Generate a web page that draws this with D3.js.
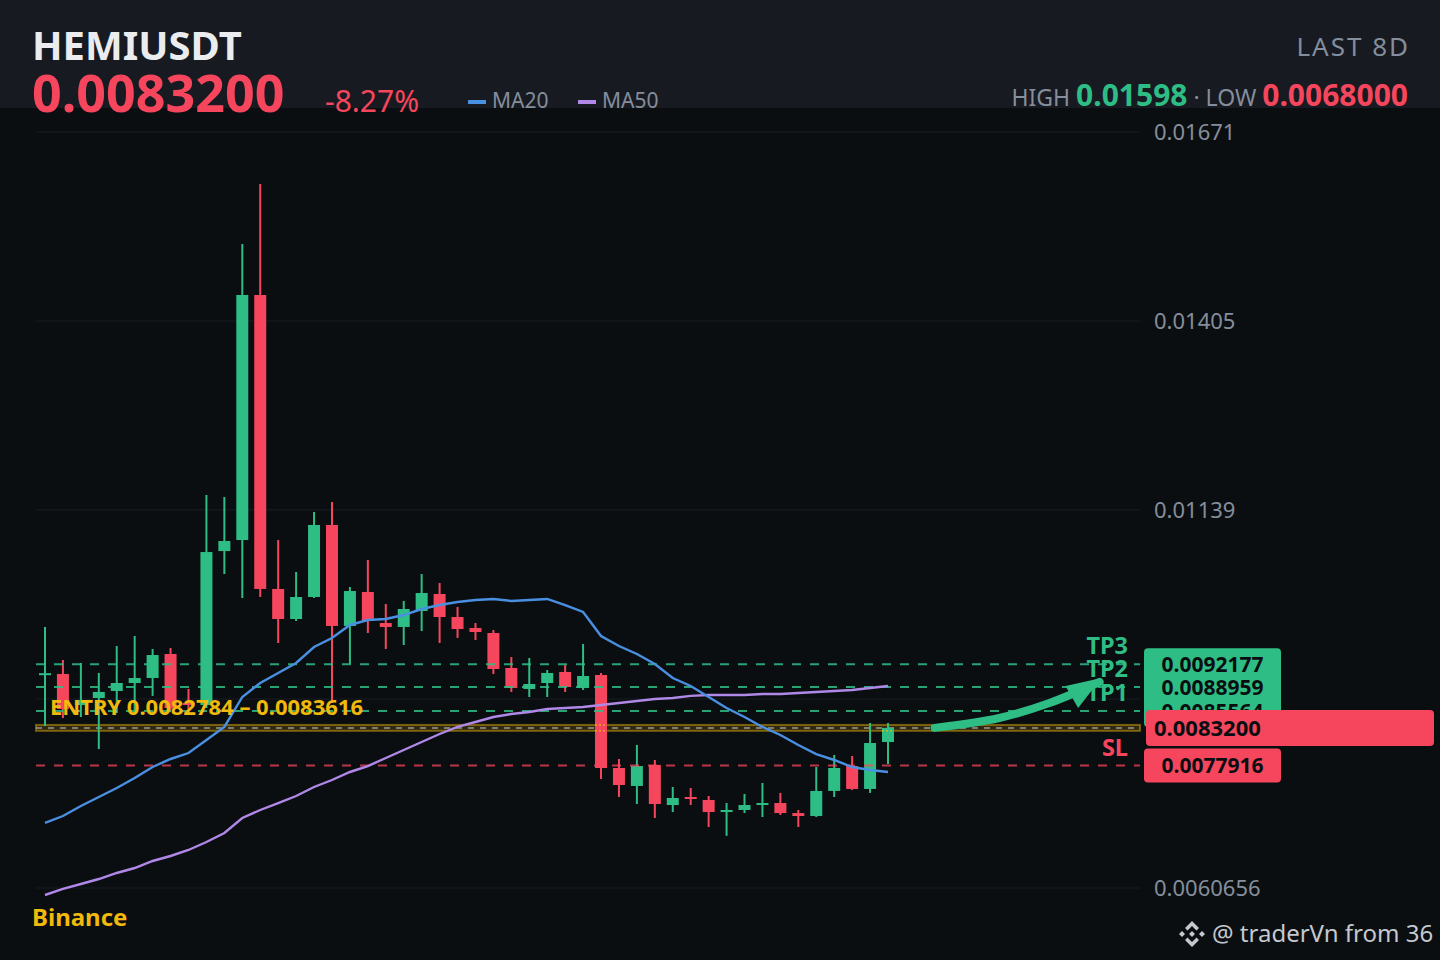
<!DOCTYPE html>
<html><head><meta charset="utf-8">
<script src="https://cdn.jsdelivr.net/npm/d3@7"></script>
<style>html,body{margin:0;padding:0;background:#0b0e11;overflow:hidden}svg{display:block}text{font-family:"Noto Sans",sans-serif}</style>
</head><body>
<svg id="c" width="1440" height="960"></svg>
<script>
const symbol="HEMIUSDT", lastPrice="0.0083200", changePct="-8.27%", period="LAST 8D", highLabel="0.01598", lowLabel="0.0068000";
const opens=[.009070,.009079,.008642,.008741,.008840,.008952,.009022,.009360,.008670,.008642,.010810,.010965,.014415,.010276,.009853,.010163,.011177,.009755,.010233,.009797,.009741,.009966,.010205,.009881,.009726,.009656,.009163,.008868,.008952,.009107,.008882,.009065,.007755,.007502,.007798,.007234,.007347,.007305,.007135,.007164,.007234,.007262,.007121,.007079,.007432,.007783,.007460,.008121];
const highs=[.009740,.009276,.009234,.009093,.009473,.009614,.009431,.009445,.008868,.011599,.011571,.015133,.015978,.010965,.010515,.011360,.011500,.010304,.010684,.010064,.010107,.010487,.010360,.010022,.009797,.009698,.009318,.009304,.009135,.009205,.009501,.009093,.007882,.008079,.007868,.007488,.007474,.007361,.007262,.007390,.007544,.007404,.007164,.007769,.007938,.007924,.008389,.008389];
const lows=[.008347,.008459,.008473,.008023,.008530,.008530,.008770,.008572,.008530,.008600,.010487,.010149,.010163,.009515,.009825,.010149,.008670,.009220,.009656,.009431,.009487,.009684,.009515,.009586,.009557,.009079,.008826,.008755,.008755,.008826,.008854,.007600,.007347,.007248,.007051,.007135,.007234,.006925,.006800,.007121,.007065,.007093,.006925,.007065,.007347,.007446,.007404,.007812];
const closes=[.009090,.008586,.008713,.008826,.008952,.009022,.009346,.008600,.008642,.010796,.010951,.014415,.010276,.009853,.010163,.011177,.009755,.010247,.009825,.009741,.009994,.010219,.009881,.009712,.009670,.009149,.008882,.008938,.009093,.008896,.009051,.007755,.007516,.007783,.007248,.007333,.007319,.007135,.007164,.007234,.007262,.007121,.007079,.007432,.007755,.007460,.008107,.008320];
const ma20=[.006981,.007079,.007220,.007347,.007474,.007614,.007769,.007882,.007966,.008149,.008333,.008755,.008952,.009093,.009234,.009459,.009586,.009769,.009839,.009853,.009909,.009994,.010050,.010092,.010121,.010135,.010107,.010121,.010135,.010050,.009952,.009614,.009473,.009360,.009220,.009022,.008910,.008755,.008600,.008473,.008333,.008220,.008079,.007952,.007868,.007769,.007727,.007699];
const ma50=[.005967,.006052,.006122,.006192,.006277,.006347,.006446,.006516,.006601,.006713,.006840,.007051,.007164,.007262,.007361,.007488,.007586,.007699,.007783,.007896,.008009,.008121,.008234,.008333,.008403,.008473,.008516,.008544,.008586,.008600,.008614,.008642,.008670,.008698,.008727,.008741,.008770,.008783,.008783,.008783,.008797,.008797,.008811,.008826,.008840,.008854,.008882,.008910];
const gridValues=[.01671,.01405,.01139,.008727,.0060656];
const axisValues=[.01671,.01405,.01139,.0060656];
const axisLabels=["0.01671","0.01405","0.01139","0.0060656"];
const tpValues=[.0092177,.0088959,.0085564];
const tpNames=["TP3","TP2","TP1"];
const tpLabels=["0.0092177","0.0088959","0.0085564"];
const slValue=.0077916, slLabel="0.0077916", slName="SL";
const currentValue=.00832;
const entryLow=.0082784, entryHigh=.0083616, entryText="ENTRY 0.0082784 – 0.0083616";
const arrowIdx=[49.6,53.2,56.0,58.8], arrowPrice=[.00832,.008459,.00867,.008966];
const headIdx=[56.9,58.9,57.6], headPrice=[.00891,.009022,.0086];
const legendNames=["MA20","MA50"];

const GREEN="#2ebd85",RED="#f6465d",GOLD="#f0b90b",GREY="#848e9c",BLUE="#4a90e2",PURPLE="#b088e8";
const svg=d3.select("#c");
const x=d3.scaleLinear().domain([0,47]).range([45,888]);
const y=d3.scaleLinear().domain([.0060656,.01671]).range([888,132]);
const L=36,R=1140;
const T=(s,px,py,size,fill,o={})=>svg.append("text").attr("x",px).attr("y",py).attr("font-size",size).attr("fill",fill)
  .attr("font-weight",o.w||400).attr("text-anchor",o.a||"start").attr("letter-spacing",o.ls||null).text(s);

svg.append("rect").attr("width",1440).attr("height",960).attr("fill","#0b0e11");
svg.append("rect").attr("width",1440).attr("height",108).attr("fill","#171a20");

svg.selectAll(".g").data(gridValues).join("line").attr("x1",L).attr("x2",R).attr("y1",d=>y(d)).attr("y2",d=>y(d)).attr("stroke","#14181d").attr("stroke-width",1.5);

// entry band + current dashed line
svg.append("rect").attr("x",L).attr("width",R-L).attr("y",y(entryHigh)).attr("height",y(entryLow)-y(entryHigh))
  .attr("fill",GOLD).attr("fill-opacity",.16).attr("stroke",GOLD).attr("stroke-opacity",.45).attr("stroke-width",2);
svg.append("line").attr("x1",L).attr("x2",R).attr("y1",y(currentValue)).attr("y2",y(currentValue)).attr("stroke","#9a9a94").attr("stroke-opacity",.75).attr("stroke-width",2).attr("stroke-dasharray","6 6");

// candles
const idx=d3.range(opens.length);
const col=i=>closes[i]>=opens[i]?GREEN:RED;
svg.selectAll(".w").data(idx).join("line").attr("x1",x).attr("x2",x).attr("y1",i=>y(highs[i])).attr("y2",i=>y(lows[i])).attr("stroke",col).attr("stroke-width",2);
svg.selectAll(".b").data(idx).join("rect").attr("x",i=>x(i)-6).attr("width",12)
  .attr("y",i=>y(Math.max(opens[i],closes[i]))).attr("height",i=>Math.max(2,Math.abs(y(opens[i])-y(closes[i])))).attr("fill",col);

// dotted band edges across candle bodies
const crossing=idx.filter(i=>Math.max(opens[i],closes[i])>entryLow&&Math.min(opens[i],closes[i])<entryHigh);
[entryHigh,entryLow].forEach(v=>{
  svg.selectAll(null).data(crossing.filter(i=>v<=Math.max(opens[i],closes[i])&&v>=Math.min(opens[i],closes[i]))).join("line")
   .attr("x1",i=>x(i)-6).attr("x2",i=>x(i)+6).attr("y1",y(v)).attr("y2",y(v)).attr("stroke",GOLD).attr("stroke-opacity",.8).attr("stroke-width",1.5).attr("stroke-dasharray","2 2");
});

// level lines
svg.selectAll(".tp").data(tpValues).join("line").attr("x1",L).attr("x2",R).attr("y1",d=>y(d)).attr("y2",d=>y(d)).attr("stroke",GREEN).attr("stroke-opacity",.85).attr("stroke-width",2).attr("stroke-dasharray","9 9");
svg.append("line").attr("x1",L).attr("x2",R).attr("y1",y(slValue)).attr("y2",y(slValue)).attr("stroke",RED).attr("stroke-opacity",.75).attr("stroke-width",2).attr("stroke-dasharray","9 9");

// moving averages
const ln=d3.line().x((d,i)=>x(i)).y(d=>y(d));
svg.append("path").attr("d",ln(ma50)).attr("fill","none").attr("stroke",PURPLE).attr("stroke-width",2.4);
svg.append("path").attr("d",ln(ma20)).attr("fill","none").attr("stroke",BLUE).attr("stroke-width",2.4);

// arrow
const arrowPts=arrowIdx.map((v,i)=>[x(v),y(arrowPrice[i])]);
svg.append("path").attr("d",d3.line().curve(d3.curveCatmullRom)(arrowPts)).attr("fill","none").attr("stroke",GREEN).attr("stroke-width",8).attr("stroke-linecap","round");
svg.append("path").attr("d",d3.line()(headIdx.map((v,i)=>[x(v),y(headPrice[i])]))+"Z").attr("fill",GREEN);

// axis
const axis=d3.axisRight(y).tickValues(axisValues).tickSize(0).tickPadding(0).tickFormat((d,i)=>axisLabels[i]);
const ag=svg.append("g").attr("transform","translate(1154,0.4)").call(axis);
ag.select(".domain").remove();
ag.selectAll("text").attr("font-size",22).attr("fill",GREY).style("font-family",'"Noto Sans",sans-serif');

// labels on chart
T(entryText,50,715,22,GOLD,{w:700});
const tpBase=[654,677,701];
tpNames.forEach((n,i)=>T(n,1128,tpBase[i],23.5,GREEN,{w:700,a:"end"}));
T(slName,1128,755.5,23.5,RED,{w:700,a:"end"});

// tags
tpValues.forEach(v=>svg.append("rect").attr("x",1144).attr("width",137).attr("y",y(v)-16).attr("height",32).attr("rx",4).attr("fill",GREEN));
svg.append("rect").attr("x",1144).attr("width",137).attr("y",y(tpValues[0])-8).attr("height",y(tpValues[2])-y(tpValues[0])+16).attr("fill",GREEN);
tpLabels.forEach((s,i)=>T(s,1212.5,y(tpValues[i])+8,21,"#0b0e11",{w:700,a:"middle"}));
svg.append("rect").attr("x",1146).attr("width",288).attr("y",y(currentValue)-18).attr("height",36).attr("rx",4).attr("fill",RED);
T(lastPrice,1154,y(currentValue)+8,22,"#0b0e11",{w:700});
svg.append("rect").attr("x",1144).attr("width",137).attr("y",y(slValue)-17).attr("height",34).attr("rx",4).attr("fill",RED);
T(slLabel,1212.5,y(slValue)+8,21,"#0b0e11",{w:700,a:"middle"});

// header
T(symbol,32,60,40,"#eaecef",{w:700});
T(lastPrice,32,112,52,RED,{w:700});
T(changePct,325,112,30,RED);
[[468,492],[578,602]].forEach((p,i)=>{
  svg.append("rect").attr("x",p[0]).attr("y",100).attr("width",18).attr("height",4).attr("fill",i?PURPLE:BLUE);
  T(legendNames[i],p[1],108,21,GREY);
});
T(period,1410,56,26,GREY,{a:"end",ls:"2px"});
const hl=svg.append("text").attr("x",1408).attr("y",106).attr("text-anchor","end");
hl.append("tspan").attr("font-size",23).attr("fill",GREY).text("HIGH ");
hl.append("tspan").attr("font-size",30).attr("font-weight",700).attr("fill",GREEN).text(highLabel);
hl.append("tspan").attr("font-size",23).attr("fill",GREY).text(" · LOW ");
hl.append("tspan").attr("font-size",30).attr("font-weight",700).attr("fill",RED).text(lowLabel);

// footer
T("Binance",32,926,24,GOLD,{w:700});
const lg=svg.append("g").attr("transform","translate(1192,934)").attr("fill","#c4c8cf");
["M0,-13L7,-6L4.5,-3.5L0,-8L-4.5,-3.5L-7,-6Z","M0,13L7,6L4.5,3.5L0,8L-4.5,3.5L-7,6Z","M-13,0L-10,-3L-7,0L-10,3Z","M13,0L10,-3L7,0L10,3Z","M0,-3L3,0L0,3L-3,0Z"].forEach(d=>lg.append("path").attr("d",d));
T("@ traderVn from 36",1212,942,24,"#c4c8cf");
</script>
</body></html>
